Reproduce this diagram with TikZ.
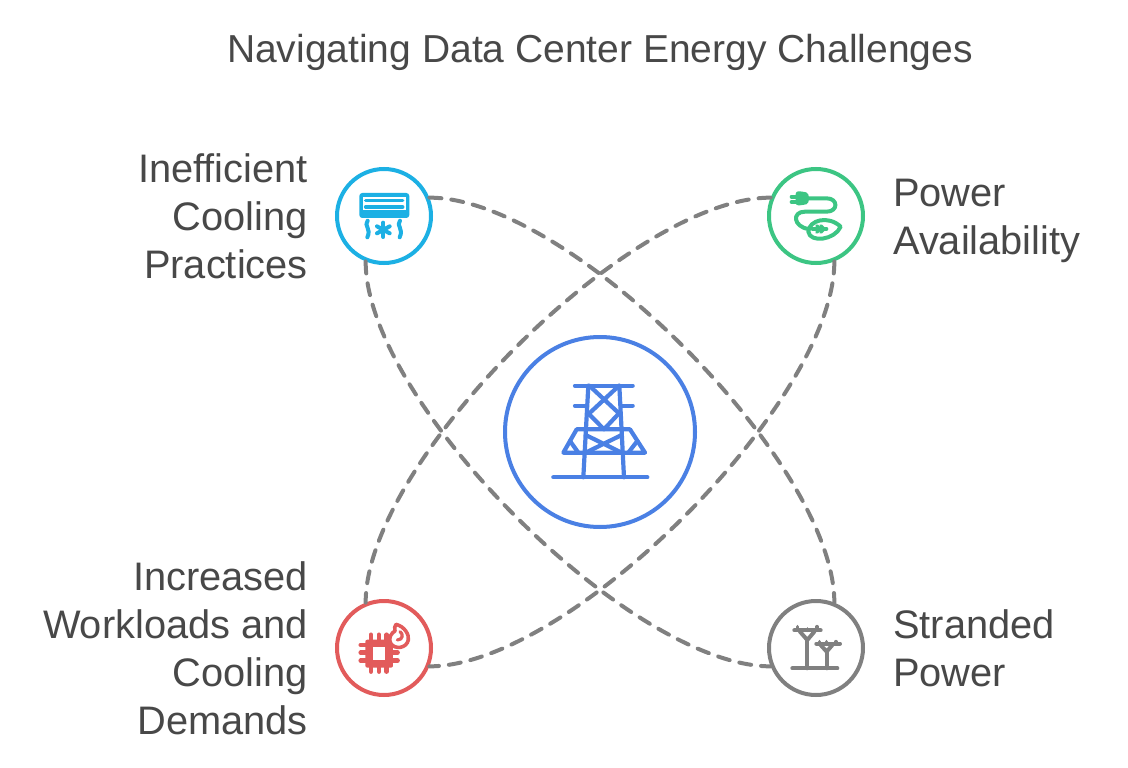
\documentclass[tikz,border=0pt]{standalone}
\usepackage{fontspec}
\setmainfont{Liberation Sans}
\definecolor{txt}{HTML}{484848}
\definecolor{cblue}{HTML}{4A80E4}
\definecolor{ccyan}{HTML}{1CB0E4}
\definecolor{cgreen}{HTML}{3CC583}
\definecolor{cred}{HTML}{E25B5B}
\definecolor{cgrey}{HTML}{808080}
\tikzset{
 ring/.style={circle,draw=#1,line width=4pt,fill=white,minimum size=94pt,inner sep=0pt},
 bigring/.style={circle,draw=#1,line width=4pt,fill=white,minimum size=190pt,inner sep=0pt},
 link/.style={draw=cgrey,line width=4pt,dash pattern=on 12pt off 10pt,line cap=round},
 lab/.style={text=txt,font=\fontsize{39.8}{48}\selectfont,inner sep=0pt},
 ttl/.style={text=txt,font=\fontsize{39}{48}\selectfont,inner sep=0pt},
 ico/.style={line cap=round,line join=round},
}
\begin{document}
\begin{tikzpicture}[x=1pt,y=-1pt]
\useasboundingbox[fill=white] (0,0) rectangle (1128,768);
\node[ring=ccyan] (ac) at (384,216) {};
\node[ring=cgreen] (plug) at (816,216) {};
\node[ring=cred] (chip) at (384,648) {};
\node[ring=cgrey] (pole) at (816,648) {};
\node[bigring=cblue] (hub) at (600,432) {};
\path[link] (ac.22) .. controls +(140,0) and +(0,-140) .. (pole.68);
\path[link] (ac.248) .. controls +(0,140) and +(-140,0) .. (pole.202);
\path[link] (plug.158) .. controls +(-140,0) and +(0,-140) .. (chip.112);
\path[link] (plug.292) .. controls +(0,140) and +(140,0) .. (chip.338);
\node[ttl,anchor=center] (title) at (600,52) {Navigating Data Center Energy Challenges};
\node[lab,anchor=east,align=right] (t1) at (308,216) {Inefficient\\Cooling\\Practices};
\node[lab,anchor=east,align=right] (t2) at (308,648) {Increased\\Workloads and\\Cooling\\Demands};
\node[lab,anchor=west,align=left] (t3) at (893,221) {Power\\Availability};
\node[lab,anchor=west,align=left] (t4) at (893,648) {Stranded\\Power};
% AC icon
\begin{scope}[shift={(320,155)},x=.3333pt,y=-.3333pt,ico,draw=ccyan,fill=ccyan,line width=4pt]
\fill[rounded corners=3pt] (118,114) rectangle (268,189);
\fill[white] (129,125) rectangle (257,168);
\fill (129,166) rectangle (257,180);
\draw[line width=3.6pt] (137,137)--(248,137);
\draw[line width=3.6pt] (137,156)--(248,156);
\draw (143,197) .. controls (130,212) and (155,220) .. (142,247);
\draw (240,197) .. controls (227,212) and (252,220) .. (239,247);
\draw (190,203)--(190,246);
\draw (171,214)--(209,235);
\draw (171,235)--(209,214);
\end{scope}
% plug icon
\begin{scope}[shift={(755,155)},x=.3333pt,y=-.3333pt,ico,draw=cgreen,fill=cgreen,line width=4pt]
\draw (110,125)--(125,125);
\draw (110,141)--(125,141);
\fill[rounded corners=3pt] (122,108) -- (145,110) .. controls (165,115) and (165,145) .. (145,150) -- (122,152) -- cycle;
\draw (160,130)--(215,130) .. controls (250,130) and (250,170) .. (215,170) -- (150,170) .. controls (110,170) and (115,215) .. (160,222);
\draw (160,230) .. controls (162,195) and (220,180) .. (257,215) .. controls (240,255) and (165,265) .. (160,230) -- cycle;
\draw[line width=3.2pt] (172,222)--(215,222);
\draw[line width=3.2pt] (185,212)--(195,222)--(185,232);
\draw[line width=3.2pt] (197,212)--(207,222)--(197,232);
\end{scope}
% chip icon
\begin{scope}[shift={(320,590)},x=.3333pt,y=-.3333pt,ico,draw=cred,fill=cred,line width=4.4pt]
\foreach \p in {153,177,200}{\draw (\p,134)--(\p,245);}
\foreach \p in {165,188,212}{\draw (122,\p)--(233,\p);}
\fill[rounded corners=2pt] (136,149) rectangle (219,233);
\fill[white] (160,172) rectangle (195,210);
\draw[fill=white,line width=3.6pt] (228,103) .. controls (255,110) and (268,135) .. (265,150) .. controls (260,175) and (225,180) .. (212,160) .. controls (203,145) and (215,128) .. (225,123) .. controls (222,115) and (225,108) .. (228,103) -- cycle;
\draw[line width=3.2pt] (240,125) .. controls (250,130) and (250,150) .. (232,150);
\end{scope}
% pole icon
\begin{scope}[shift={(755,590)},x=.3333pt,y=-.3333pt,ico,draw=cgrey,fill=cgrey,line width=4pt]
\draw (112,235)--(247,235);
\draw (157,235)--(157,150);
\draw (135,125)--(157,150)--(178,125);
\draw (118,121)--(197,121);
\draw[line width=3.6pt] (128,110)--(128,120) (186,110)--(186,120) (157,117)--(157,121);
\draw (215,235)--(215,185);
\draw (197,165)--(215,185)--(232,165);
\draw (184,161)--(255,161);
\draw[line width=3.6pt] (193,155)--(193,160) (215,155)--(215,160) (243,155)--(243,160);
\end{scope}
% tower icon
\begin{scope}[shift={(540,370)},x=.3333pt,y=-.3333pt,ico,draw=cblue,line width=4.2pt]
\draw (105,47)--(278,47);
\draw (105,107)--(140,107) (245,107)--(278,107);
\draw (145,47)--(130,322);
\draw (238,47)--(252,322);
\draw (148,47)--(237,130) (237,47)--(148,130);
\draw (145,130)--(192,178)--(237,130);
\draw (70,248) -- (110,178) -- (270,178) -- (315,248) -- cycle;
\draw (137,195)--(245,248) (245,195)--(137,248);
\draw (90,213)--(115,248) (292,213)--(265,248);
\draw (40,322)--(322,322);
\end{scope}
\end{tikzpicture}
\end{document}
